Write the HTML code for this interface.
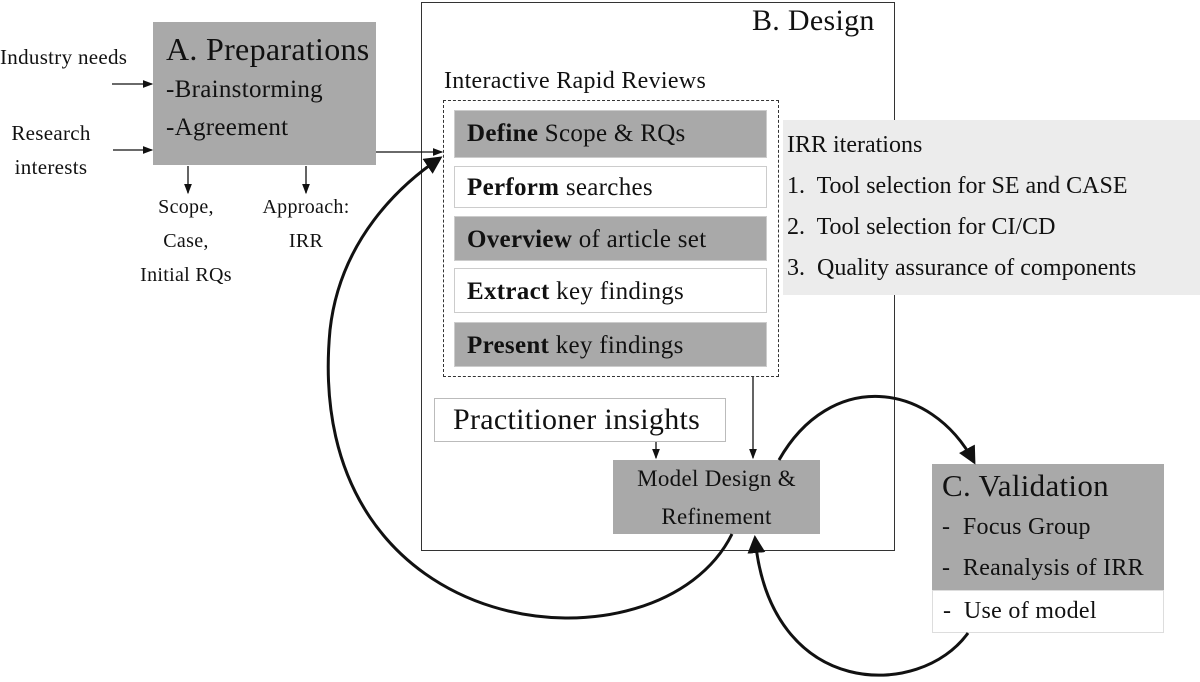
<!DOCTYPE html>
<html><head><style>
body{margin:0;width:1200px;height:682px;background:#fff;position:relative;overflow:hidden;font-family:"Liberation Serif",serif;color:#111}
.a{position:absolute;box-sizing:border-box;letter-spacing:0.3px}
.g{background:#a9a9a9}
.r{position:absolute;left:454px;width:313px;box-sizing:border-box;font-size:25px;padding-left:12px;border:1px solid #ccc;letter-spacing:0.3px}
</style></head><body>
<div class="a" style="left:421px;top:2px;width:474px;height:549px;border:1.5px solid #333"></div>
<div class="a" style="left:752px;top:4px;font-size:30px">B. Design</div>
<div class="a" style="left:0;top:45px;font-size:21px">Industry needs</div>
<div class="a" style="left:6px;top:116px;width:90px;font-size:21px;line-height:34px;text-align:center">Research<br>interests</div>
<div class="a g" style="left:153px;top:22px;width:223px;height:143px;padding:6px 0 0 13px">
<div style="font-size:32px;line-height:42px">A. Preparations</div>
<div style="font-size:25px;line-height:40px">-Brainstorming</div>
<div style="font-size:25px;line-height:36px">-Agreement</div></div>
<div class="a" style="left:120px;top:190px;width:132px;text-align:center;font-size:20px;line-height:34px">Scope,<br>Case,<br>Initial RQs</div>
<div class="a" style="left:240px;top:190px;width:132px;text-align:center;font-size:20px;line-height:34px">Approach:<br>IRR</div>
<div class="a" style="left:444px;top:68px;font-size:24px">Interactive Rapid Reviews</div>
<div class="a" style="left:443px;top:100px;width:336px;height:277px;border:1.5px dashed #333"></div>
<div class="r g" style="top:110px;height:48px;line-height:46px"><b>Define</b> Scope &amp; RQs</div>
<div class="r" style="top:166px;height:42px;line-height:42px"><b>Perform</b> searches</div>
<div class="r g" style="top:216px;height:45px;line-height:46px"><b>Overview</b> of article set</div>
<div class="r" style="top:268px;height:45px;line-height:46px"><b>Extract</b> key findings</div>
<div class="r g" style="top:322px;height:45px;line-height:46px"><b>Present</b> key findings</div>
<div class="a" style="left:783px;top:120px;width:417px;height:175px;background:#ececec;padding:5px 0 0 4px;font-size:24px;line-height:41px;letter-spacing:0">IRR iterations<br>1.&nbsp; Tool selection for SE and CASE<br>2.&nbsp; Tool selection for CI/CD<br>3.&nbsp; Quality assurance of components</div>
<div class="a" style="left:434px;top:398px;width:292px;height:44px;border:1px solid #bbb;font-size:30px;line-height:42px;padding-left:18px">Practitioner insights</div>
<div class="a g" style="left:613px;top:460px;width:207px;height:74px;text-align:center;font-size:23px;line-height:38px">Model Design &amp;<br>Refinement</div>
<div class="a g" style="left:932px;top:464px;width:232px;height:126px;padding:0 0 0 10px">
<div style="font-size:31px;line-height:40px;margin-top:2px">C. Validation</div>
<div style="font-size:24px;line-height:42px">-&nbsp; Focus Group</div>
<div style="font-size:24px;line-height:40px">-&nbsp; Reanalysis of IRR</div></div>
<div class="a" style="left:932px;top:590px;width:232px;height:43px;border:1px solid #ddd;font-size:24px;line-height:40px;padding-left:10px">-&nbsp; Use of model</div>
<svg class="a" style="left:0;top:0" width="1200" height="682">
<defs><marker id="m" markerWidth="8" markerHeight="8" refX="7" refY="4" orient="auto"><path d="M0,1 L8,4 L0,7z" fill="#111"/></marker>
<marker id="M" markerWidth="6" markerHeight="6" refX="5" refY="3" orient="auto"><path d="M0,0 L6,3 L0,6z" fill="#111"/></marker></defs>
<g stroke="#111" stroke-width="1.3" fill="none" marker-end="url(#m)">
<line x1="112" y1="84" x2="152" y2="84"/><line x1="113" y1="150" x2="152" y2="150"/>
<line x1="188" y1="166" x2="188" y2="193"/><line x1="306" y1="166" x2="306" y2="193"/>
<line x1="376" y1="152" x2="442" y2="152"/>
<line x1="656" y1="442" x2="656" y2="458"/><line x1="753" y1="377" x2="753" y2="458"/>
</g>
<g stroke="#111" stroke-width="3" fill="none" marker-end="url(#M)">
<path d="M732 534 C660 680 300 650 330 330 C340 240 400 185 440 158"/>
<path d="M779 460 C830 370 930 380 974 462"/>
<path d="M968 633 C920 700 770 700 755 538"/>
</g></svg>
</body></html>
